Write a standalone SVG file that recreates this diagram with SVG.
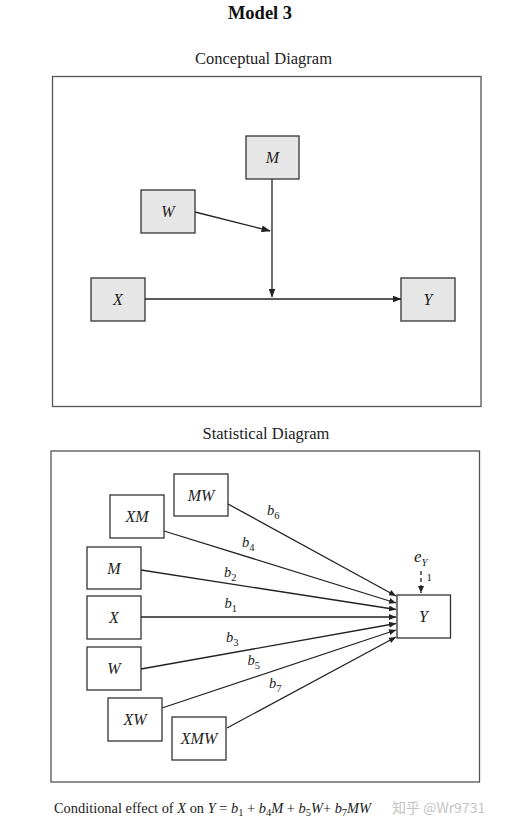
<svg xmlns="http://www.w3.org/2000/svg" width="506" height="824" viewBox="0 0 506 824">
<defs>
<style>
.frame{fill:none;stroke:#555;stroke-width:1.3}
.cbox{fill:#e6e6e6;stroke:#333;stroke-width:1.3}
.sbox{fill:#fff;stroke:#333;stroke-width:1.3}
.ln{fill:none;stroke:#222;stroke-width:1.3}
.lbl{font-family:"Liberation Serif",serif;font-style:italic;font-size:16px;fill:#222;text-anchor:middle}
.coef{font-family:"Liberation Serif",serif;font-style:italic;font-size:14.5px;fill:#222}
.sub{font-size:10.5px;font-style:normal}
.head{font-family:"Liberation Serif",serif;font-size:16.5px;fill:#222;text-anchor:middle}
</style>
<marker id="ah" markerWidth="9" markerHeight="7" refX="8.5" refY="3.5" orient="auto" markerUnits="userSpaceOnUse">
<path d="M0,0 L9,3.5 L0,7 Z" fill="#222"/>
</marker>
<marker id="ahs" markerWidth="7" markerHeight="6" refX="7" refY="3" orient="auto" markerUnits="userSpaceOnUse">
<path d="M0,0 L7,3 L0,6 Z" fill="#222"/>
</marker>
</defs>
<rect width="506" height="824" fill="#fff"/>
<text x="260" y="19" font-family="Liberation Serif,serif" font-weight="bold" font-size="18.5" fill="#111" text-anchor="middle">Model 3</text>
<text class="head" x="263.5" y="64">Conceptual Diagram</text>
<rect class="frame" x="52.5" y="76.5" width="428.5" height="330"/>
<g id="connectors-conceptual">
<line class="ln" x1="145" y1="299" x2="401" y2="299" marker-end="url(#ah)"/>
<line class="ln" x1="272" y1="179" x2="272" y2="297" marker-end="url(#ah)"/>
<line class="ln" x1="195" y1="212" x2="270" y2="231" marker-end="url(#ah)"/>
</g>
<g id="c-M"><rect class="cbox" x="246" y="136" width="53" height="43"/><text class="lbl" x="272.5" y="163">M</text></g>
<g id="c-W"><rect class="cbox" x="141" y="190" width="54" height="43"/><text class="lbl" x="168" y="217">W</text></g>
<g id="c-X"><rect class="cbox" x="91" y="278" width="54" height="43"/><text class="lbl" x="118" y="305">X</text></g>
<g id="c-Y"><rect class="cbox" x="401" y="278" width="54" height="43"/><text class="lbl" x="428" y="305">Y</text></g>

<text class="head" x="266" y="439">Statistical Diagram</text>
<rect class="frame" x="51" y="451" width="428.5" height="331"/>
<g id="connectors-statistical">
<line class="ln" x1="228" y1="504" x2="396" y2="596" marker-end="url(#ahs)"/>
<line class="ln" x1="164" y1="531" x2="396" y2="603" marker-end="url(#ahs)"/>
<line class="ln" x1="141" y1="570" x2="396" y2="609.5" marker-end="url(#ahs)"/>
<line class="ln" x1="141" y1="617" x2="396" y2="617" marker-end="url(#ahs)"/>
<line class="ln" x1="141" y1="669" x2="396" y2="623.5" marker-end="url(#ahs)"/>
<line class="ln" x1="162" y1="708" x2="396" y2="630" marker-end="url(#ahs)"/>
<line class="ln" x1="227" y1="728" x2="396" y2="637" marker-end="url(#ahs)"/>
<line class="ln" x1="421" y1="571" x2="421" y2="593" stroke-dasharray="4,3" marker-end="url(#ahs)"/>
<text class="coef" x="267" y="515">b<tspan class="sub" dy="4">6</tspan></text>
<text class="coef" x="242" y="547">b<tspan class="sub" dy="4">4</tspan></text>
<text class="coef" x="224" y="577">b<tspan class="sub" dy="4">2</tspan></text>
<text class="coef" x="224.5" y="608">b<tspan class="sub" dy="4">1</tspan></text>
<text class="coef" x="226" y="641.5">b<tspan class="sub" dy="4">3</tspan></text>
<text class="coef" x="247.5" y="665">b<tspan class="sub" dy="4">5</tspan></text>
<text class="coef" x="269" y="688">b<tspan class="sub" dy="4">7</tspan></text>
<text class="coef" x="414" y="562" style="font-size:17px">e<tspan dy="4" style="font-size:10.5px;font-style:italic">Y</tspan></text>
<text x="426.5" y="581" font-family="Liberation Serif,serif" font-size="11" fill="#222">1</text>
</g>
<g id="s-MW"><rect class="sbox" x="174" y="474" width="54" height="42"/><text class="lbl" x="201" y="500.5">MW</text></g>
<g id="s-XM"><rect class="sbox" x="110" y="495" width="54" height="43"/><text class="lbl" x="137" y="522">XM</text></g>
<g id="s-M"><rect class="sbox" x="87" y="547" width="54" height="42"/><text class="lbl" x="114" y="573.5">M</text></g>
<g id="s-X"><rect class="sbox" x="87" y="596" width="54" height="43"/><text class="lbl" x="114" y="623">X</text></g>
<g id="s-W"><rect class="sbox" x="87" y="647" width="54" height="43"/><text class="lbl" x="114" y="674">W</text></g>
<g id="s-XW"><rect class="sbox" x="108" y="698" width="54" height="43"/><text class="lbl" x="135" y="725">XW</text></g>
<g id="s-XMW"><rect class="sbox" x="172" y="717" width="54" height="43"/><text class="lbl" x="199" y="744">XMW</text></g>
<g id="s-Y"><rect class="sbox" x="397" y="595" width="53.5" height="43"/><text class="lbl" x="423.5" y="622">Y</text></g>

<text x="54" y="813" font-family="Liberation Serif,serif" font-size="14.4" fill="#222">Conditional effect of <tspan font-style="italic">X</tspan> on <tspan font-style="italic">Y</tspan> = <tspan font-style="italic">b</tspan><tspan font-size="10.5" dy="3">1</tspan><tspan dy="-3"> + </tspan><tspan font-style="italic">b</tspan><tspan font-size="10.5" dy="3">4</tspan><tspan font-style="italic" dy="-3">M</tspan> + <tspan font-style="italic">b</tspan><tspan font-size="10.5" dy="3">5</tspan><tspan font-style="italic" dy="-3">W</tspan>+ <tspan font-style="italic">b</tspan><tspan font-size="10.5" dy="3">7</tspan><tspan font-style="italic" dy="-3">MW</tspan></text>
<text x="392" y="813" font-family="Noto Sans CJK SC,Noto Sans,sans-serif" font-size="14" fill="#c4c4c4">知乎 @Wr9731</text>
</svg>
